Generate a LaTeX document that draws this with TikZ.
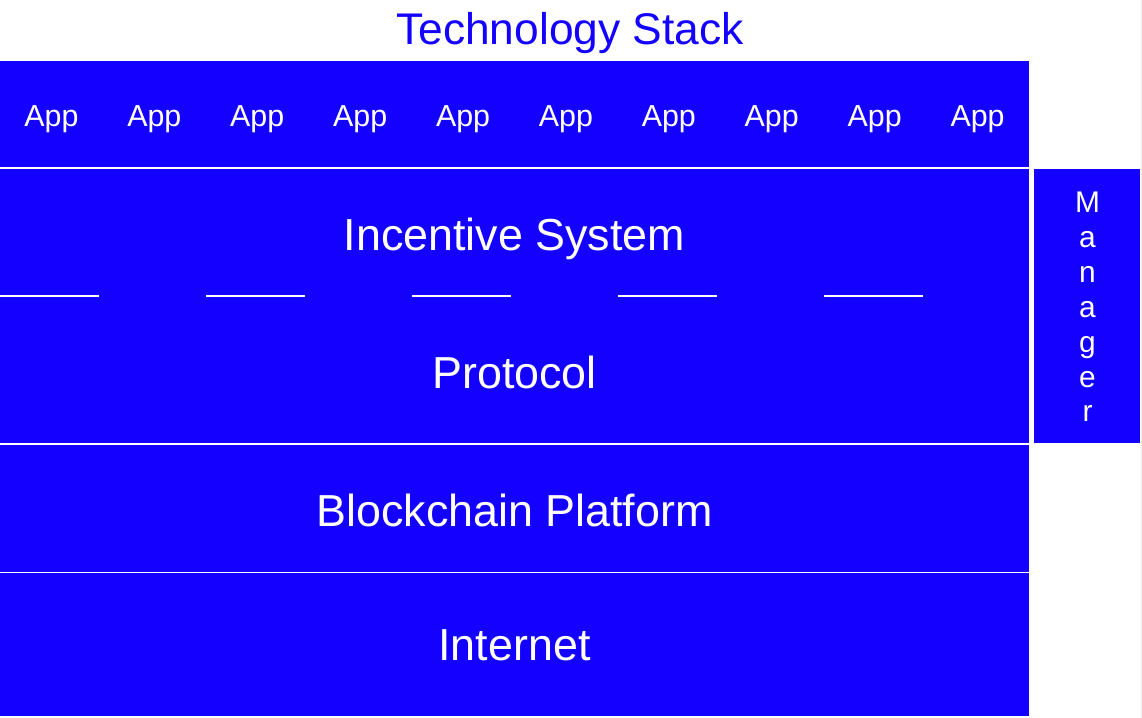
\documentclass[tikz,border=0pt]{standalone}
\usepackage{fontspec}
\setmainfont{Liberation Sans}
\definecolor{stackblue}{RGB}{20,0,255}
\tikzset{
  layer/.style={fill=stackblue, draw=none, inner sep=0pt, anchor=north west},
  biglabel/.style={text=white, inner sep=0pt, anchor=base, font=\fontsize{45}{54}\selectfont},
  applabel/.style={text=white, inner sep=0pt, anchor=base, font=\fontsize{30.5}{37}\selectfont},
}
\begin{document}
\begin{tikzpicture}[x=1bp,y=-1bp]
\fill[white] (0,0) rectangle (1142,718);
\useasboundingbox (0,0) rectangle (1142,718);
\draw[black!8, line width=1bp] (1141.5,0) -- (1141.5,718);
\node[text=stackblue, inner sep=0pt, anchor=base, font=\fontsize{44.5}{54}\selectfont] (title) at (570,45) {Technology Stack};
\node[layer, minimum width=1029bp, minimum height=106bp] (apps) at (0,61) {};
\foreach \i in {0,...,9}{
  \node[applabel] (app\i) at ({51.45+102.9*\i},127) {App};
}
\node[layer, minimum width=1029bp, minimum height=273.5bp] (ip) at (0,169) {};
\node[biglabel] (inc) at (514.5,250) {Incentive System};
\node[biglabel] (proto) at (514.5,388) {Protocol};
\coordinate (dl) at (0,295.5);
\coordinate (dr) at (1029,295.5);
\draw[white, line width=2bp, dash pattern=on 99bp off 107bp] (dl) -- (dr);
\node[layer, minimum width=106bp, minimum height=273.5bp] (mgr) at (1034,169) {};
\node[text=white, align=center, inner sep=0pt, font=\fontsize{30}{35}\selectfont] (mgrtext) at (1087.5,307) {M\\a\\n\\a\\g\\e\\r};
\node[layer, minimum width=1029bp, minimum height=127bp] (bc) at (0,444.5) {};
\node[biglabel] (bctext) at (514.5,526) {Blockchain Platform};
\node[layer, minimum width=1029bp, minimum height=143bp] (net) at (0,573) {};
\node[biglabel] (nettext) at (514.5,660) {Internet};
\end{tikzpicture}
\end{document}
